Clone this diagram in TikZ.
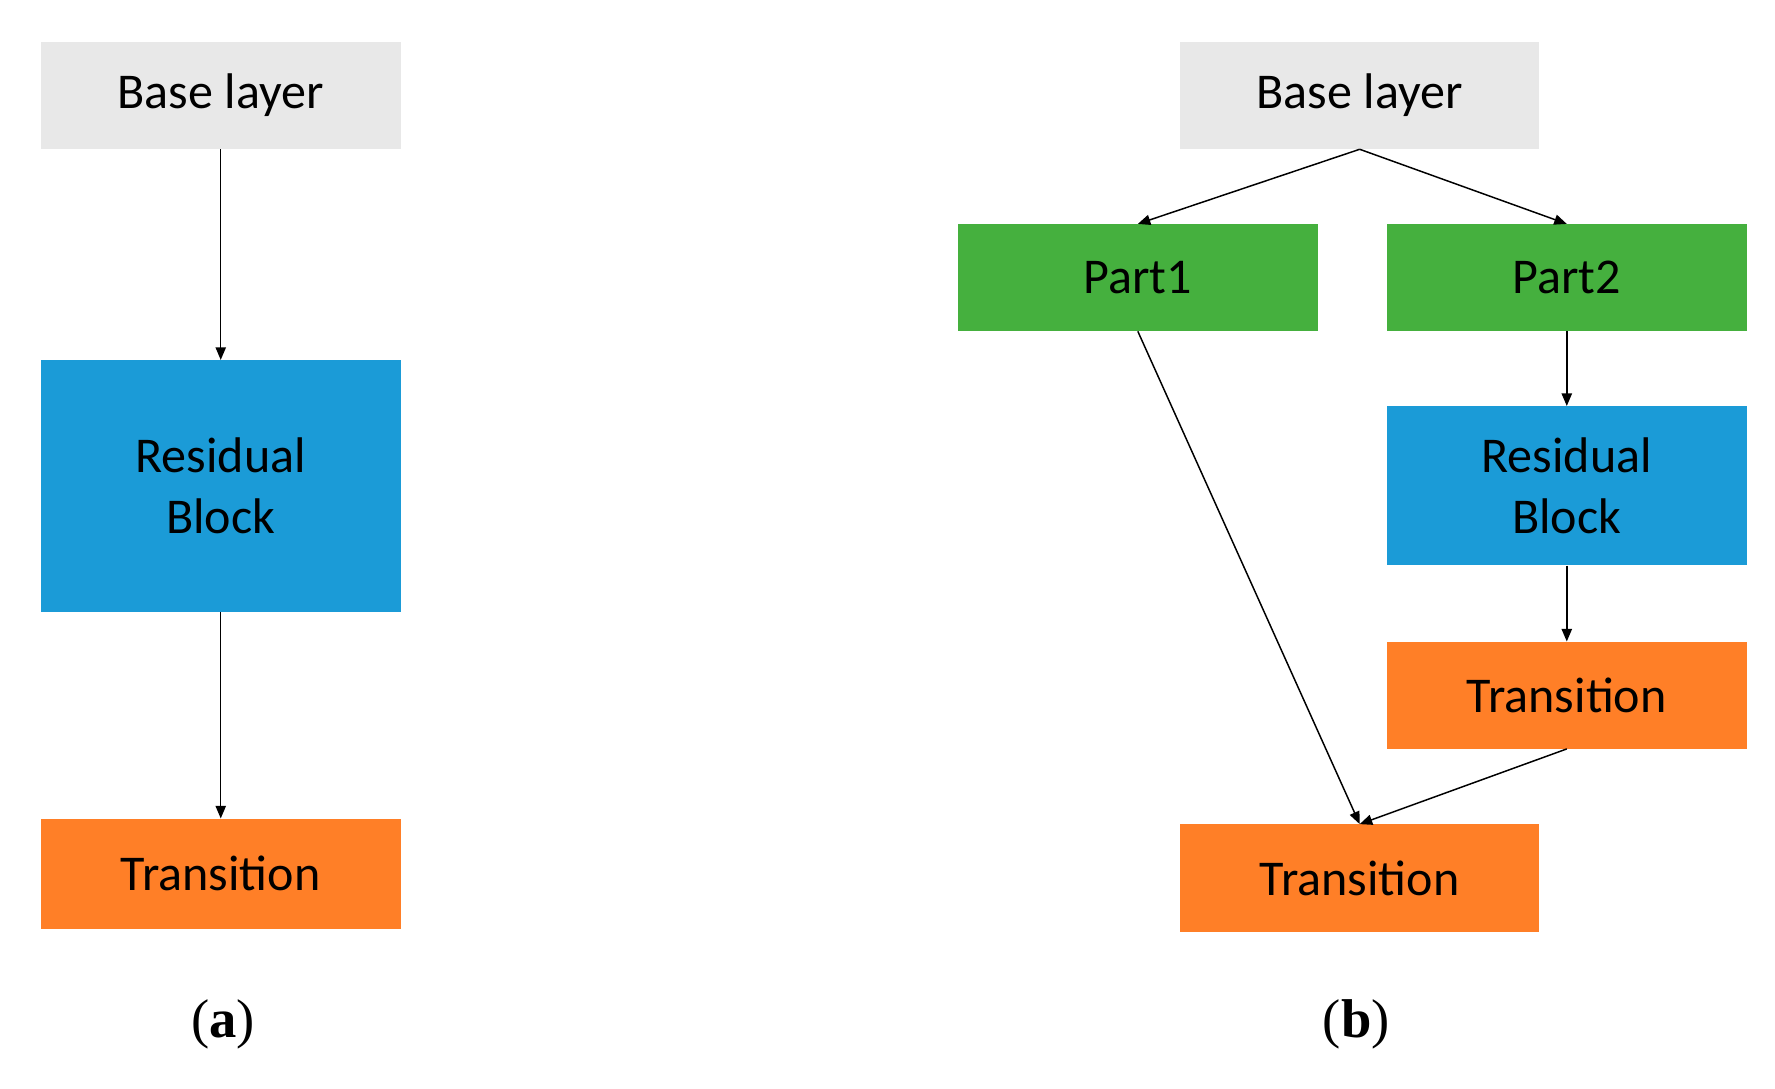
\documentclass[tikz,border=0pt]{standalone}
\usepackage{fontspec}
\setmainfont{Carlito}
\newfontfamily\serifb{Liberation Serif}
\usetikzlibrary{arrows.meta}
\definecolor{cgray}{HTML}{E8E8E8}
\definecolor{cblue}{HTML}{1B9BD7}
\definecolor{corange}{HTML}{FF7F27}
\definecolor{cgreen}{HTML}{45B03E}
\begin{document}
\begin{tikzpicture}[x=1pt,y=-1pt,
 box/.style={draw=none,minimum width=316pt,inner sep=0pt,align=center,font=\fontsize{44}{54}\selectfont},
 arr/.style={-{Triangle[length=11pt,width=9pt]},line width=1.3pt},
 lab/.style={font=\serifb\fontsize{48}{56}\selectfont}]
\useasboundingbox (0,0) rectangle (1560,957);
\node[box,fill=cgray,minimum height=94pt] (ba) at (194,84) {Base layer};
\node[box,fill=cblue,minimum height=221pt] (ra) at (194,427) {Residual\\Block};
\node[box,fill=corange,minimum height=97pt] (ta) at (194,768) {Transition};
\draw[arr] (ba.south) -- (ra.north);
\draw[arr] (ra.south) -- (ta.north);
\node[lab] (la) at (196,900) {(\textbf{a})};
\node[box,fill=cgray,minimum height=94pt] (bb) at (1195,84) {Base layer};
\node[box,fill=cgreen,minimum height=94pt] (p1) at (1000,244) {Part1};
\node[box,fill=cgreen,minimum height=94pt] (p2) at (1377,244) {Part2};
\node[box,fill=cblue,minimum height=140pt] (rb) at (1377,427) {Residual\\Block};
\node[box,fill=corange,minimum height=94pt] (tb1) at (1377,611) {Transition};
\node[box,fill=corange,minimum height=95pt] (tb) at (1195,772) {Transition};
\draw[arr] (bb.south) -- (p1.north);
\draw[arr] (bb.south) -- (p2.north);
\draw[arr] (p2.south) -- (rb.north);
\draw[arr] (rb.south) -- (tb1.north);
\draw[arr] (p1.south) -- (tb.north);
\draw[arr] (tb1.south) -- (tb.north);
\node[lab] (lb) at (1192,900) {(\textbf{b})};
\end{tikzpicture}
\end{document}
